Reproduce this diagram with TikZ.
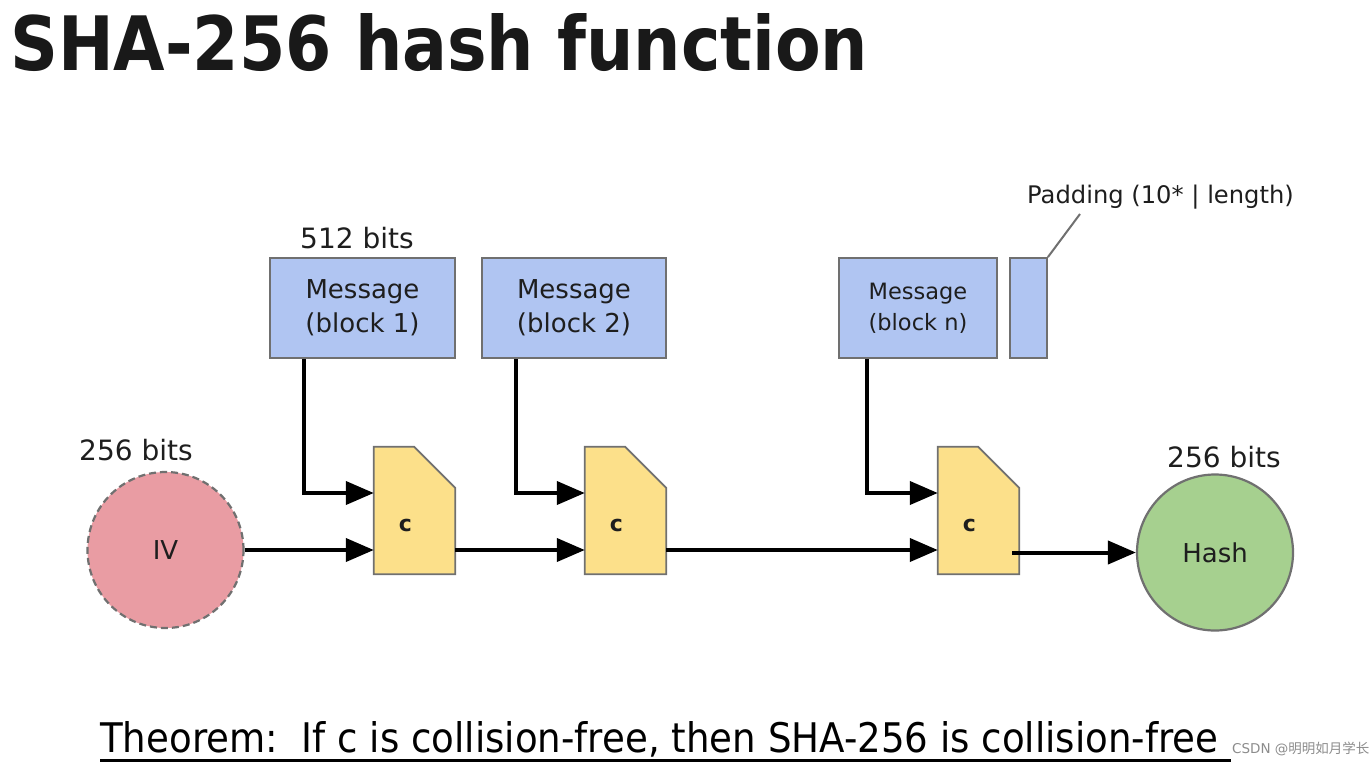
\documentclass[tikz,border=0pt]{standalone}
\usepackage{fontspec}
\setmainfont{DejaVu Sans}
\newfontfamily\cjkfont{Noto Sans CJK SC}
\usetikzlibrary{arrows.meta}
\definecolor{msgfill}{HTML}{B0C5F2}
\definecolor{cfill}{HTML}{FCE08A}
\definecolor{ivfill}{HTML}{E99CA3}
\definecolor{hashfill}{HTML}{A6D08F}
\definecolor{edge}{HTML}{707070}
\definecolor{txt}{HTML}{1E1E1E}
\tikzset{
  msgbox/.style={draw=edge, fill=msgfill, line width=1.8pt, inner sep=0pt, align=center, text=txt, font=\fontsize{26}{34}\selectfont},
  cholder/.style={inner sep=0pt, minimum width=81pt, minimum height=127pt},
  cshape/.style={draw=edge, fill=cfill, line width=1.8pt},
  clabel/.style={font=\fontsize{22}{22}\selectfont\bfseries, text=txt, inner sep=0pt},
  lbl/.style={font=\fontsize{28}{28}\selectfont, text=txt, inner sep=0pt},
  arr/.style={line width=4pt, -{Triangle[length=28pt,width=23pt]}},
  circ/.style={circle, minimum size=156pt, inner sep=0pt, line width=2.2pt, font=\fontsize{26}{26}\selectfont, text=txt}
}
\begin{document}
\begin{tikzpicture}[x=1pt,y=-1pt]
\useasboundingbox[fill=white] (0,0) rectangle (1370,766);

% title
\node[anchor=base west, inner sep=0pt, text=black!90] (title) at (10,70)
  {\resizebox{858pt}{57pt}{\bfseries SHA-256 hash function}};

% message blocks
\node[msgbox, minimum width=185pt, minimum height=100pt] (m1) at (362.5,308) {Message\\(block 1)};
\node[msgbox, minimum width=184pt, minimum height=100pt] (m2) at (574,308) {Message\\(block 2)};
\node[msgbox, minimum width=158pt, minimum height=100pt, font=\fontsize{22.5}{31}\selectfont] (mn) at (918,308) {Message\\(block n)};
\node[msgbox, minimum width=37pt, minimum height=100pt] (pad) at (1028.5,308) {};

\node[lbl, anchor=base west] (bits512) at (300,248) {512 bits};
\node[lbl, anchor=base west, font=\fontsize{24.2}{24}\selectfont] (padtxt) at (1027,203) {Padding (10* | length)};
\coordinate (padlead) at (1080,214);
\draw[edge, line width=2pt] (pad.north east) -- (padlead);

% compression boxes
\foreach \n/\x in {c1/414.5, c2/625.5, c3/978.5}{
  \node[cholder] (\n) at (\x,510.5) {};
  \draw[cshape] (\n.south west) -- (\n.north west) -- ([xshift=-41pt]\n.north east)
     -- ([yshift=-41pt]\n.north east) -- (\n.south east) -- cycle;
  \node[clabel] at ([xshift=-9pt,yshift=-15pt]\n.center) {c};
}

% IV and Hash
\node[circ, draw=edge, dashed, dash pattern=on 7pt off 4pt, fill=ivfill] (iv) at (165.5,550) {IV};
\node[circ, draw=edge, fill=hashfill] (hash) at (1215,552.5) {Hash};
\node[lbl, anchor=base west] (bitsiv) at (79,460) {256 bits};
\node[lbl, anchor=base west] (bitshash) at (1167,467) {256 bits};

% arrows
\draw[arr] (iv.east) -- (iv.east -| c1.west);
\draw[arr] (c1.east |- iv.east) -- (c2.west |- iv.east);
\draw[arr] (c2.east |- iv.east) -- (c3.west |- iv.east);
\draw[arr] ([xshift=-7pt]c3.east |- hash.west) -- (hash.west);

\draw[arr] ([xshift=35pt]m1.south west) |- ([yshift=17.5pt]c1.west);
\draw[arr] ([xshift=35pt]m2.south west) |- ([yshift=17.5pt]c2.west);
\draw[arr] ([xshift=29pt]mn.south west) |- ([yshift=17.5pt]c3.west);

% theorem
\node[anchor=base west, inner sep=0pt, text=black] (thm) at (100,752)
  {\resizebox{1118pt}{31pt}{Theorem:\ \ If c is collision-free, then SHA-256 is collision-free}};
\draw[black, line width=3pt] ([yshift=-8pt]thm.base west) -- ([yshift=-8pt,xshift=12pt]thm.base east);

% watermark
\node[anchor=base west, inner sep=0pt, text=black!45, font=\fontsize{13.5}{14}\selectfont] (wm) at (1232,753) {CSDN @\cjkfont 明明如月学长};
\end{tikzpicture}
\end{document}
